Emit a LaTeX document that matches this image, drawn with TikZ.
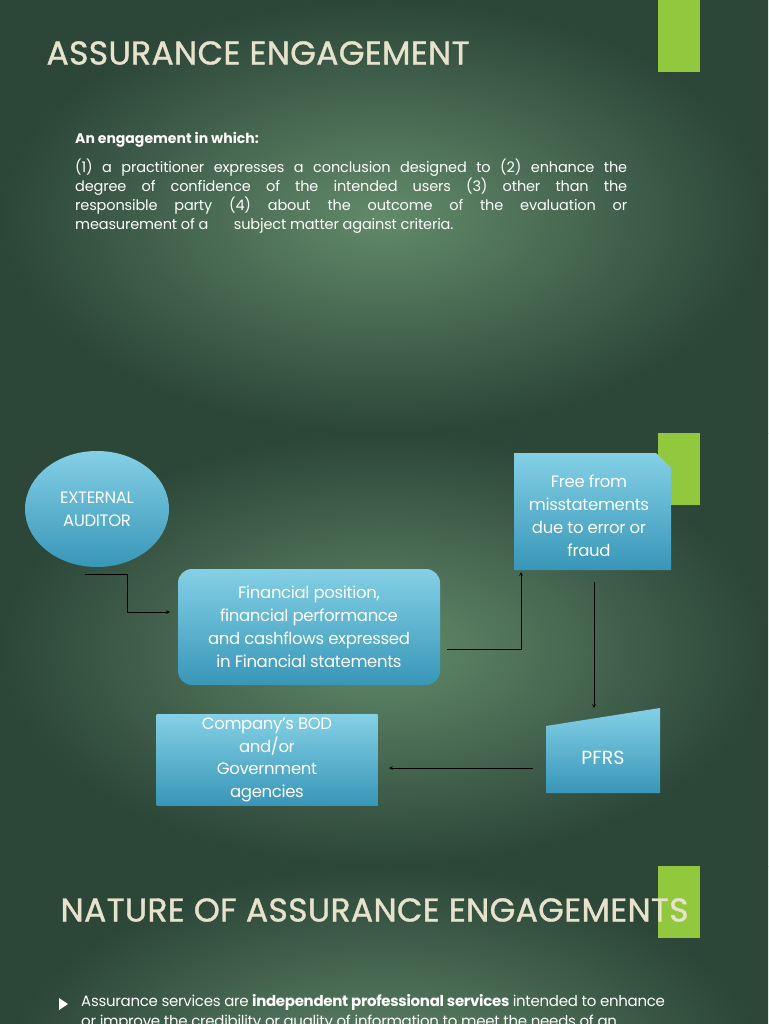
\documentclass[tikz,border=0pt]{standalone}
\usepackage{fontspec}
\setmainfont{Poppins}
\usetikzlibrary{shapes.geometric}
\definecolor{bgin}{HTML}{628A6A}
\definecolor{bgout}{HTML}{2C4638}
\definecolor{ttl}{HTML}{E6E2CC}
\definecolor{bar}{HTML}{92C83E}
\definecolor{btop}{HTML}{84D0E6}
\definecolor{bbot}{HTML}{3896B8}
\tikzset{
  btext/.style={text=white,align=center,font=\fontsize{16.5}{23}\selectfont\addfontfeature{LetterSpace=-2}},
  box/.style={btext,top color=btop,bottom color=bbot,draw=none},
  conn/.style={draw=black,line width=0.7pt,-stealth},
  gbar/.style={fill=bar,draw=none},
  ttext/.style={anchor=west,text=ttl,font=\fontsize{33}{36}\selectfont\addfontfeature{LetterSpace=1,FakeBold=1.2}}
}
\begin{document}
\begin{tikzpicture}[x=1pt,y=-1pt]
\useasboundingbox (0,0) rectangle (768,1024);
\foreach \t in {0,433,866}{
  \shade[inner color=bgin,outer color=bgout] (0,\t) rectangle (768,\t+433);
}
\clip (0,0) rectangle (768,1024);
% bars
\fill[gbar] (658,0) rectangle (700,72);
\fill[gbar] (658,433) rectangle (700,505);
\fill[gbar] (658,866) rectangle (700,938);
% slide 1
\node[ttext] (t1) at (43,53) {ASSURANCE ENGAGEMENT};
\node[anchor=north west,text=white,font=\fontsize{14}{19}\selectfont,inner sep=0pt] (p0) at (75,132) {\textbf{An engagement in which:}};
\node[anchor=north west,text=white,font=\fontsize{14.5}{19}\selectfont\addfontfeature{LetterSpace=-1},inner sep=0pt,text width=552pt,align=justify] (p1) at (75,159)
{(1) a practitioner expresses a conclusion designed to (2) enhance the\linebreak degree of confidence of the intended users (3) other than the\linebreak responsible party (4) about the outcome of the evaluation or\linebreak measurement of a \hspace{1.5em}subject matter against criteria.};
% slide 2 shapes
\node[box,ellipse,minimum width=144pt,minimum height=116pt] (ea) at (97,509) {EXTERNAL\\AUDITOR};
\node[box,rounded corners=14pt,minimum width=262pt,minimum height=116pt] (fs) at (309,627) {Financial position,\\financial performance\\and cashflows expressed\\in Financial statements};
\shade[top color=btop,bottom color=bbot] (514,453) -- (656,453) -- (671,468) -- (671,570) -- (514,570) -- cycle;
\node[btext] (ff) at (589,516) {Free from\\misstatements\\due to error or\\fraud};
\shade[top color=btop,bottom color=bbot] (546,726) -- (660,708) -- (660,793) -- (546,793) -- cycle;
\node[btext,font=\fontsize{19}{22}\selectfont] (pf) at (603,758) {PFRS};
\node[box,minimum width=221pt,minimum height=90pt,font=\fontsize{16.5}{22.5}\selectfont\addfontfeature{LetterSpace=-2}] (cb) at (267,760) {Company's BOD\\and/or\\Government\\agencies};
\coordinate (a1) at (85,574); \coordinate (a2) at (127,574); \coordinate (a3) at (127,612); \coordinate (a4) at (170,612);
\draw[conn] (a1) -- (a2) -- (a3) -- (a4);
\coordinate (b1) at (447,649); \coordinate (b2) at (521,649); \coordinate (b3) at (521,572);
\draw[conn] (b1) -- (b2) -- (b3);
\coordinate (c1) at (594,582); \coordinate (c2) at (594,708);
\draw[conn] (c1) -- (c2);
\coordinate (d1) at (533,768); \coordinate (d2) at (389,768);
\draw[conn] (d1) -- (d2);
% slide 3
\node[ttext] (t3) at (57,910) {NATURE OF ASSURANCE ENGAGEMENTS};
\fill[white] (59,998) -- (68,1004) -- (59,1010) -- cycle;
\node[anchor=north west,text=white,font=\fontsize{15}{20}\selectfont\addfontfeature{LetterSpace=-2},inner sep=0pt,align=left] (p3) at (81,994)
{Assurance services are \textbf{independent professional services} intended to enhance\\or improve the credibility or quality of information to meet the needs of an};
\end{tikzpicture}
\end{document}
